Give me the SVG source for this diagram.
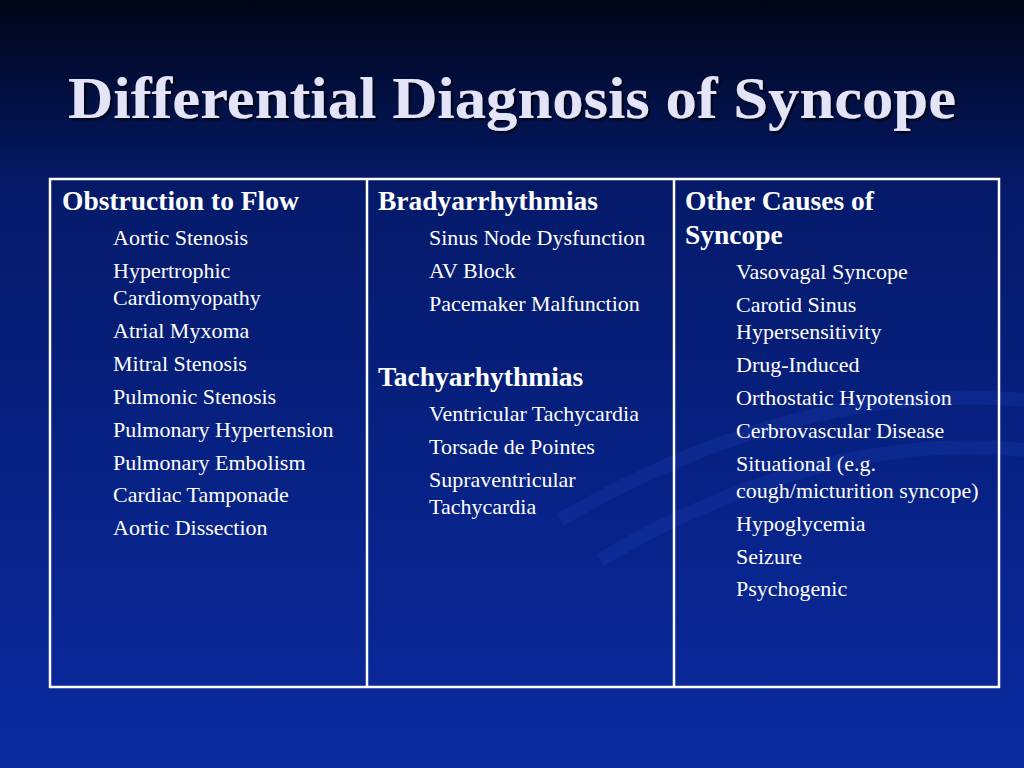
<svg xmlns="http://www.w3.org/2000/svg" width="1024" height="768" viewBox="0 0 1024 768">
<defs>
<linearGradient id="bg" x1="0" y1="0" x2="0" y2="1">
<stop offset="0" stop-color="#000518"/>
<stop offset="0.25" stop-color="#051a6a"/>
<stop offset="1" stop-color="#0a2aa0"/>
</linearGradient>
<filter id="sh"><feDropShadow dx="2" dy="2" stdDeviation="1" flood-color="#000" flood-opacity="0.8"/></filter>
</defs>
<style>
text{font-family:"Liberation Serif",serif;fill:#fff}
.h{font-size:27.5px;font-weight:bold}
.i{font-size:22px}
.t{font-size:60px;font-weight:bold;fill:#e4e4f8}
</style>
<rect width="1024" height="768" fill="url(#bg)"/>
<path d="M560 520 Q800 380 1024 400 M600 560 Q820 430 1024 450" stroke="#1a3ab0" stroke-width="14" fill="none" opacity="0.3"/>
<text class="t" x="68" y="118" textLength="888" lengthAdjust="spacingAndGlyphs" filter="url(#sh)">Differential Diagnosis of Syncope</text>
<g id="table" fill="none" stroke="#fff" stroke-width="2.5">
<rect x="50" y="179" width="949" height="508"/>
<line x1="367" y1="179" x2="367" y2="687"/>
<line x1="674" y1="179" x2="674" y2="687"/>
</g>
<g id="col1">
<text class="h" x="62" y="210">Obstruction to Flow</text>
<text class="i" x="113" y="245">Aortic Stenosis</text>
<text class="i" x="113" y="278">Hypertrophic</text>
<text class="i" x="113" y="305">Cardiomyopathy</text>
<text class="i" x="113" y="338">Atrial Myxoma</text>
<text class="i" x="113" y="371">Mitral Stenosis</text>
<text class="i" x="113" y="404">Pulmonic Stenosis</text>
<text class="i" x="113" y="437">Pulmonary Hypertension</text>
<text class="i" x="113" y="470">Pulmonary Embolism</text>
<text class="i" x="113" y="502">Cardiac Tamponade</text>
<text class="i" x="113" y="535">Aortic Dissection</text>
</g>
<g id="col2">
<text class="h" x="378" y="210">Bradyarrhythmias</text>
<text class="i" x="429" y="245">Sinus Node Dysfunction</text>
<text class="i" x="429" y="278">AV Block</text>
<text class="i" x="429" y="311">Pacemaker Malfunction</text>
<text class="h" x="378" y="386">Tachyarhythmias</text>
<text class="i" x="429" y="421">Ventricular Tachycardia</text>
<text class="i" x="429" y="454">Torsade de Pointes</text>
<text class="i" x="429" y="487">Supraventricular</text>
<text class="i" x="429" y="514">Tachycardia</text>
</g>
<g id="col3">
<text class="h" x="685" y="210">Other Causes of</text>
<text class="h" x="685" y="244">Syncope</text>
<text class="i" x="736" y="279">Vasovagal Syncope</text>
<text class="i" x="736" y="312">Carotid Sinus</text>
<text class="i" x="736" y="339">Hypersensitivity</text>
<text class="i" x="736" y="372">Drug-Induced</text>
<text class="i" x="736" y="405">Orthostatic Hypotension</text>
<text class="i" x="736" y="438">Cerbrovascular Disease</text>
<text class="i" x="736" y="471">Situational (e.g.</text>
<text class="i" x="736" y="498">cough/micturition syncope)</text>
<text class="i" x="736" y="531">Hypoglycemia</text>
<text class="i" x="736" y="564">Seizure</text>
<text class="i" x="736" y="596">Psychogenic</text>
</g>
</svg>
